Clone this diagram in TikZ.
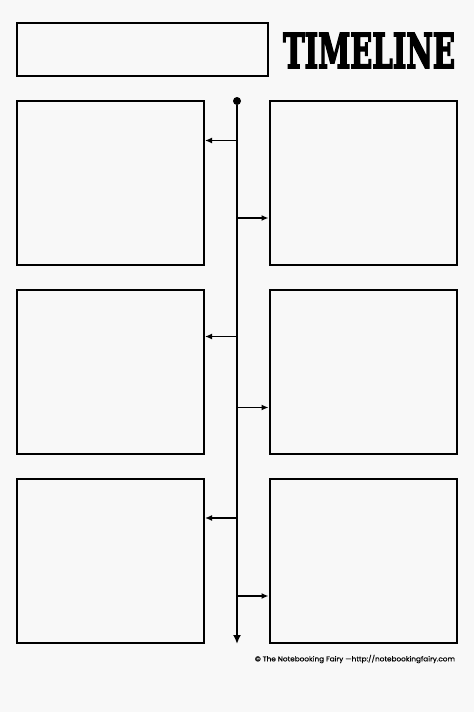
\documentclass[tikz,border=0pt]{standalone}
\usepackage{fontspec}
\usepackage{graphicx}
\usetikzlibrary{arrows.meta}
\newfontfamily\titlefont[FakeBold=4]{DejaVu Serif}
\newfontfamily\footfont[FakeBold=0.6]{Poppins}
\definecolor{paper}{HTML}{F8F8F8}
\tikzset{
  panel/.style={draw, line width=2pt, inner sep=0pt, minimum width=187pt, minimum height=164pt},
  pointer/.style={line width=1.6pt, -{Latex[length=7pt, width=6pt]}}
}
\begin{document}
\begin{tikzpicture}[x=1pt, y=-1pt]
\fill[paper] (0,0) rectangle (474,712);
\useasboundingbox (0,0) rectangle (474,712);
\node[draw, line width=2pt, inner sep=0pt, minimum width=251pt, minimum height=53pt] (namebox) at (142.5,49.5){};
\node[inner sep=0pt] (title) at (369,50.5){\resizebox{172pt}{35pt}{\titlefont\bfseries TIMELINE}};
\node[panel] (lbox1) at (110.5,183){};
\node[panel] (lbox2) at (110.5,372){};
\node[panel] (lbox3) at (110.5,561){};
\node[panel] (rbox1) at (363,183){};
\node[panel] (rbox2) at (363,372){};
\node[panel] (rbox3) at (363,561){};
\node[circle, fill, inner sep=0pt, minimum size=8pt] (start) at (237,101){};
\coordinate (end) at (237,644);
\draw[line width=2.6pt, -{Latex[length=9pt, width=8pt]}] (start) -- (end);
\coordinate (t1) at (237,140.5);
\coordinate (t2) at (237,218);
\coordinate (t3) at (237,336.5);
\coordinate (t4) at (237,407.5);
\coordinate (t5) at (237,518);
\coordinate (t6) at (237,596);
\draw[pointer] (t1) -- (t1 -| lbox1.east);
\draw[pointer] (t2) -- (t2 -| rbox1.west);
\draw[pointer] (t3) -- (t3 -| lbox2.east);
\draw[pointer] (t4) -- (t4 -| rbox2.west);
\draw[pointer] (t5) -- (t5 -| lbox3.east);
\draw[pointer] (t6) -- (t6 -| rbox3.west);
\node[inner sep=0pt] (credit) at (355,659){\resizebox{200pt}{6.5pt}{\footfont © The Notebooking Fairy —http://notebookingfairy.com}};
\end{tikzpicture}
\end{document}
